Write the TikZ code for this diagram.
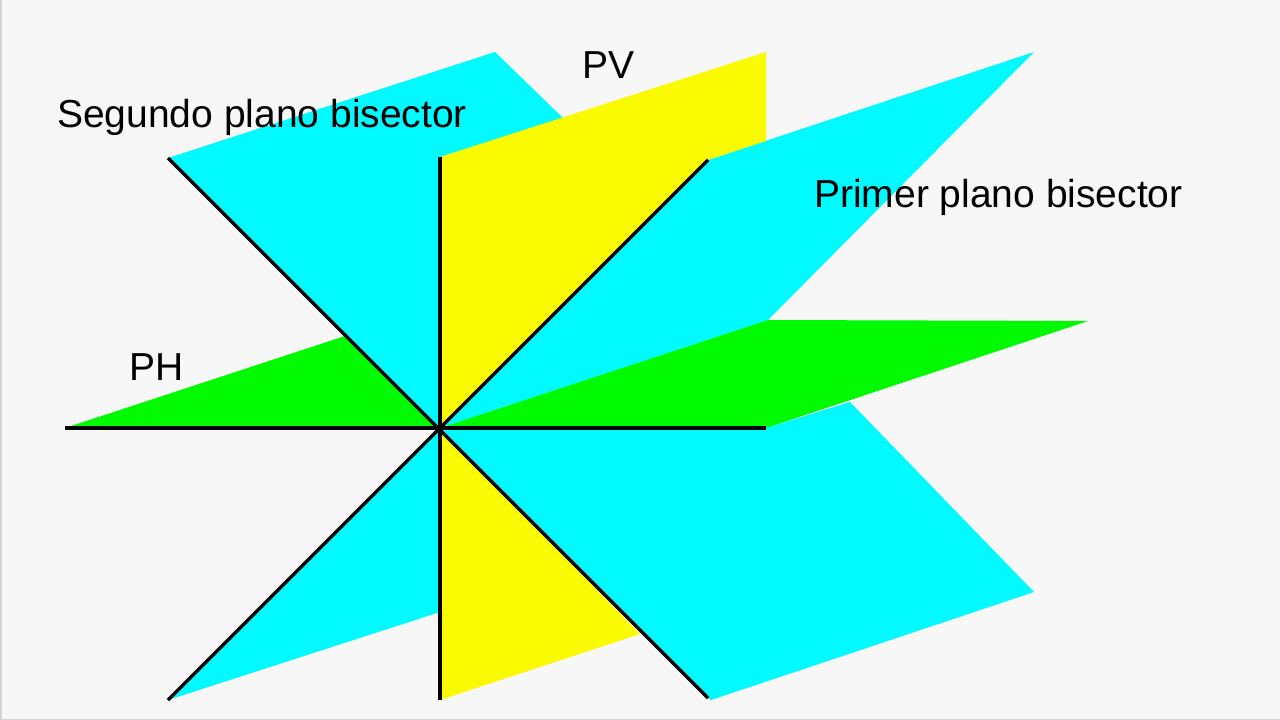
\documentclass[tikz,border=0pt]{standalone}
\usepackage{fontspec}
\setmainfont{Liberation Sans}
\definecolor{bgc}{HTML}{F7F7F8}
\definecolor{framec}{HTML}{D4D4D4}
\definecolor{cy}{HTML}{00FAFF}
\definecolor{ye}{HTML}{FAFA00}
\definecolor{gr}{HTML}{00FA00}
\tikzset{x=1pt,y=-1pt,
  plane/.style={draw=none},
  edge/.style={draw=black,line width=3.2pt},
  lab/.style={font=\fontsize{39}{44}\selectfont,text=black,inner sep=0pt}}
\begin{document}
\begin{tikzpicture}
\useasboundingbox (0,0) rectangle (1280,720);
\fill[bgc] (0,0) rectangle (1280,720);
\fill[framec] (0,0) rectangle (1.5,720);
\fill[framec] (0,718.5) rectangle (1280,720);
\coordinate (O) at (440,428);
\coordinate (H1) at (65,428);
\coordinate (H2) at (766,428);
\coordinate (V1) at (440,157);
\coordinate (V2) at (440,700);
\coordinate (A1) at (168,158);
\coordinate (A2) at (708,698);
\coordinate (B1) at (168,700);
\coordinate (B2) at (708,160);
% second bisector
\fill[cy,plane] (A1) -- (495,52) -- (563,118) -- (V1) -- (O) -- cycle;
\fill[cy,plane] (O) -- (A2) -- (711,700) -- (1034,592) -- (850,402) -- (H2) -- cycle;
% first bisector
\fill[cy,plane] (B1) -- (O) -- (440,612) -- cycle;
\fill[cy,plane] (O) -- (B2) -- (1034,52) -- (768,320) -- cycle;
% PV
\fill[ye,plane] (V1) -- (766,52) -- (766,141) -- (B2) -- (O) -- cycle;
\fill[ye,plane] (O) -- (V2) -- (640,634) -- cycle;
% PH
\fill[gr,plane] (H1) -- (345,336) -- (O) -- cycle;
\fill[gr,plane] (O) -- (768,320) -- (1088,321) -- (H2) -- cycle;
% edges
\draw[edge] (H1) -- (H2);
\draw[edge] (V1) -- (V2);
\draw[edge] (A1) -- (A2);
\draw[edge] (B1) -- (B2);
\node[lab,anchor=west] (s) at (57,117) {Segundo plano bisector};
\node[lab,anchor=west] (p) at (814,197) {Primer plano bisector};
\node[lab,anchor=west] (pv) at (582,65) {PV};
\node[lab,anchor=west] (ph) at (129,367) {PH};
\end{tikzpicture}
\end{document}
